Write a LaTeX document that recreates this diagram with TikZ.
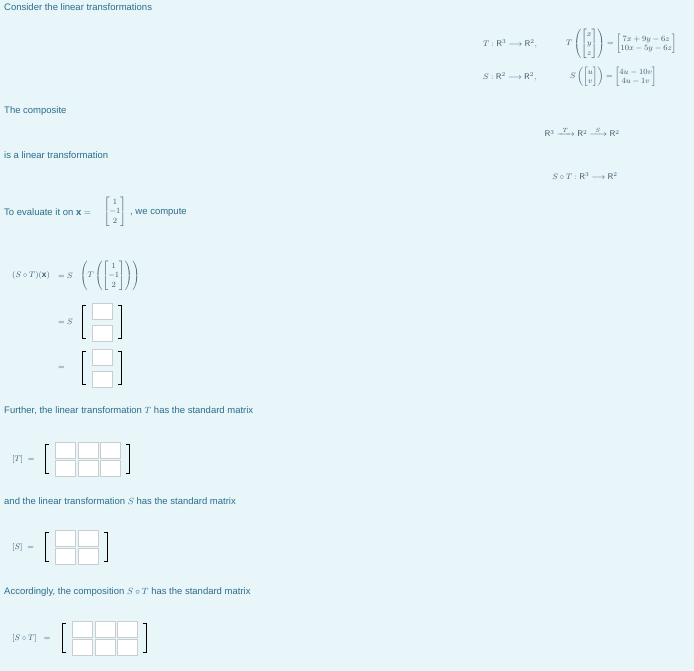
\documentclass[tikz,border=0pt]{standalone}
\usepackage{amsmath}
\usepackage{fontspec}
\setmainfont{Liberation Sans}
\definecolor{bg}{HTML}{E8F5F9}
\definecolor{txt}{HTML}{2A6F8C}
\definecolor{mth}{HTML}{3C5A6E}
\definecolor{cellb}{HTML}{C8CDD0}
\tikzset{
  lbl/.style={anchor=west,inner sep=0pt,text=txt,font=\fontsize{9.5}{11}\selectfont},
  mathl/.style={inner sep=0pt,text=mth,font=\fontsize{8.3}{9.5}\selectfont},
  cell/.style={draw=cellb,fill=white,minimum width=20pt,minimum height=16pt,inner sep=0pt},
  brk/.style={draw=black,line width=0.8pt}
}
\newcommand{\Rs}{\mathsf{R}}
\begin{document}
\begin{tikzpicture}[x=1pt,y=-1pt]
\fill[bg] (0,0) rectangle (694,671);
\useasboundingbox (0,0) rectangle (694,671);
\node[lbl] (t1) at (4,7) {Consider the linear transformations};
\node[mathl,anchor=west] (tdef) at (483,44) {$T:\Rs^3\longrightarrow \Rs^2,$};
\node[mathl,anchor=west] (tmap) at (566,44) {$T\left(\begin{bmatrix}x\\y\\z\end{bmatrix}\right)=\begin{bmatrix}7x+9y-6z\\10x-5y-6z\end{bmatrix}$};
\node[mathl,anchor=west] (sdef) at (483,77) {$S:\Rs^2\longrightarrow \Rs^2,$};
\node[mathl,anchor=west] (smap) at (570,77) {$S\left(\begin{bmatrix}u\\v\end{bmatrix}\right)=\begin{bmatrix}4u-10v\\4u-1v\end{bmatrix}$};
\node[lbl] (t2) at (4,111) {The composite};
\node[mathl] (comp) at (582,132) {$\Rs^3\xrightarrow{\;\,T\;\,}\Rs^2\xrightarrow{\;\,S\;\,}\Rs^2$};
\node[lbl] (t3) at (4,155) {is a linear transformation};
\node[mathl] (st) at (585,176) {$S\circ T:\Rs^3\longrightarrow\Rs^2$};
\node[lbl] (t4) at (4,212) {To evaluate it on $\mathbf{x}=$};
\node[mathl] (xv) at (115,212) {$\begin{bmatrix}1\\-1\\2\end{bmatrix}$};
\node[lbl] (t4b) at (130,212) {, we compute};
\node[mathl,anchor=west] (e1) at (12,276) {$(S\circ T)(\mathbf{x})$};
\node[mathl,anchor=west] (e1b) at (58,276) {$=S$};
\node[mathl,anchor=west] (e1c) at (80,276) {$\left(T\left(\begin{bmatrix}1\\-1\\2\end{bmatrix}\right)\right)$};
\node[mathl,anchor=west] (e2) at (58,322) {$=S$};
\node[mathl,anchor=west] (e3) at (58,368) {$=$};
\foreach \n/\y in {a/311,b/333,c/357,d/379}{\node[cell] (v\n) at (102,\y) {};}
\draw[brk] ([xshift=-6pt,yshift=-3pt]va.north west) -| ([xshift=-9pt,yshift=3pt]vb.south west) -- ++(3,0);
\draw[brk] ([xshift=6pt,yshift=-3pt]va.north east) -| ([xshift=9pt,yshift=3pt]vb.south east) -- ++(-3,0);
\draw[brk] ([xshift=-6pt,yshift=-3pt]vc.north west) -| ([xshift=-9pt,yshift=3pt]vd.south west) -- ++(3,0);
\draw[brk] ([xshift=6pt,yshift=-3pt]vc.north east) -| ([xshift=9pt,yshift=3pt]vd.south east) -- ++(-3,0);
\node[lbl] (t5) at (4,411) {Further, the linear transformation $T$ has the standard matrix};
\node[mathl,anchor=west] (tm) at (12,459) {$[T]\;=$};
\foreach \r/\y in {1/450,2/468}{\foreach \c/\x in {1/65,2/88,3/110}{\node[cell] (T\r\c) at (\x,\y) {};}}
\draw[brk] ([xshift=-6pt,yshift=-3pt]T11.north west) -| ([xshift=-9pt,yshift=3pt]T21.south west) -- ++(3,0);
\draw[brk] ([xshift=6pt,yshift=-3pt]T13.north east) -| ([xshift=9pt,yshift=3pt]T23.south east) -- ++(-3,0);
\node[lbl] (t6) at (4,501) {and the linear transformation $S$ has the standard matrix};
\node[mathl,anchor=west] (sm) at (12,547) {$[S]\;=$};
\foreach \r/\y in {1/538,2/556}{\foreach \c/\x in {1/65,2/88}{\node[cell] (S\r\c) at (\x,\y) {};}}
\draw[brk] ([xshift=-6pt,yshift=-3pt]S11.north west) -| ([xshift=-9pt,yshift=3pt]S21.south west) -- ++(3,0);
\draw[brk] ([xshift=6pt,yshift=-3pt]S12.north east) -| ([xshift=9pt,yshift=3pt]S22.south east) -- ++(-3,0);
\node[lbl] (t7) at (4,592) {Accordingly, the composition $S\circ T$ has the standard matrix};
\node[mathl,anchor=west] (stm) at (12,638) {$[S\circ T]\;\;=$};
\foreach \r/\y in {1/629,2/647}{\foreach \c/\x in {1/82,2/105,3/127}{\node[cell] (P\r\c) at (\x,\y) {};}}
\draw[brk] ([xshift=-6pt,yshift=-3pt]P11.north west) -| ([xshift=-9pt,yshift=3pt]P21.south west) -- ++(3,0);
\draw[brk] ([xshift=6pt,yshift=-3pt]P13.north east) -| ([xshift=9pt,yshift=3pt]P23.south east) -- ++(-3,0);
\end{tikzpicture}
\end{document}
